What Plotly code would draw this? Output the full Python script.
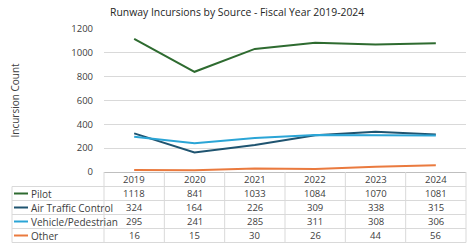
import plotly.graph_objects as go

years = ["2019", "2020", "2021", "2022", "2023", "2024"]
series_names = ["Pilot", "Air Traffic Control", "Vehicle/Pedestrian", "Other"]
pilot = [1118, 841, 1033, 1084, 1070, 1081]
atc = [324, 164, 226, 309, 338, 315]
vehicle = [295, 241, 285, 311, 308, 306]
other = [16, 15, 30, 26, 44, 56]
y_ticks = [0, 200, 400, 600, 800, 1000, 1200]

values = [pilot, atc, vehicle, other]
colors = ["#2E6B30", "#1F5470", "#2BA5D6", "#EA7A3E"]

FW, FH = 474, 248
L, R, T, B = 104, 8, 29, 76
W = FW - L - R
H = FH - T - B
FONT = "Open Sans"
TXT = "#404040"
NUM_SIZE = 9.5


def px_x(px):
    return (px - L) / W


def px_y(py):
    return (T + H - py) / H


fig = go.Figure()
for name, vals, c in zip(series_names, values, colors):
    fig.add_trace(go.Scatter(x=years, y=vals, mode="lines", name=name,
                             line=dict(color=c, width=2), showlegend=False))

shapes = []
annotations = []
grid_c = "#D9D9D9"

# table geometry
col_w = W / len(years)
row_top = [186.5, 200.5, 214.5, 228.5]
row_h = 14
table_bottom = row_top[-1] + row_h
left_edge = 12

# horizontal lines
for yy in row_top + [table_bottom]:
    shapes.append(dict(type="line", xref="paper", yref="paper",
                       x0=px_x(left_edge), x1=1, y0=px_y(yy), y1=px_y(yy),
                       line=dict(color=grid_c, width=1)))
# vertical lines
for i in range(len(years) + 1):
    xx = L + i * col_w
    shapes.append(dict(type="line", xref="paper", yref="paper",
                       x0=px_x(xx), x1=px_x(xx), y0=0, y1=px_y(table_bottom),
                       line=dict(color=grid_c, width=1)))
shapes.append(dict(type="line", xref="paper", yref="paper",
                   x0=px_x(left_edge), x1=px_x(left_edge),
                   y0=px_y(row_top[0]), y1=px_y(table_bottom),
                   line=dict(color=grid_c, width=1)))

# header
for i, yr in enumerate(years):
    annotations.append(dict(x=i, xref="x", y=px_y(179), yref="paper",
                            text=yr, showarrow=False, yanchor="middle",
                            font=dict(family=FONT, size=NUM_SIZE, color=TXT)))
# rows
for r, (name, vals, c) in enumerate(zip(series_names, values, colors)):
    yc = row_top[r] + row_h / 2
    shapes.append(dict(type="line", xref="paper", yref="paper",
                       x0=px_x(14), x1=px_x(28), y0=px_y(yc), y1=px_y(yc),
                       line=dict(color=c, width=2)))
    annotations.append(dict(x=px_x(28.5), xref="paper", y=px_y(yc), yref="paper",
                            text=name, showarrow=False, xanchor="left",
                            yanchor="middle",
                            font=dict(family=FONT, size=10, color=TXT)))
    for i, v in enumerate(vals):
        annotations.append(dict(x=i, xref="x", y=px_y(yc), yref="paper",
                                text=str(v), showarrow=False, yanchor="middle",
                                font=dict(family=FONT, size=NUM_SIZE, color=TXT)))

# y-axis title
annotations.append(dict(x=px_x(14), xref="paper", y=0.5, yref="paper",
                        text="Incursion Count", textangle=-90, showarrow=False,
                        xanchor="center", yanchor="middle",
                        font=dict(family=FONT, size=10, color=TXT)))
# title
annotations.append(dict(x=px_x(237), xref="paper", y=px_y(12.5), yref="paper",
                        text="Runway Incursions by Source - Fiscal Year 2019-2024",
                        showarrow=False, xanchor="center", yanchor="middle",
                        font=dict(family=FONT, size=10.4, color="#262626")))

fig.update_layout(
    width=FW, height=FH,
    margin=dict(l=L, r=R, t=T, b=B),
    paper_bgcolor="white", plot_bgcolor="white",
    shapes=shapes, annotations=annotations,
    xaxis=dict(type="category", showticklabels=False, showgrid=False,
               showline=True, linecolor="#BFBFBF", linewidth=1,
               range=[-0.5, len(years) - 0.5], zeroline=False, ticks=""),
    yaxis=dict(range=[0, 1200], tickvals=y_ticks, showgrid=True,
               gridcolor=grid_c, gridwidth=1, zeroline=False, showline=False,
               ticks="", ticklabelstandoff=10,
               tickfont=dict(family=FONT, size=NUM_SIZE, color=TXT)),
)

fig.write_html("out.html")
